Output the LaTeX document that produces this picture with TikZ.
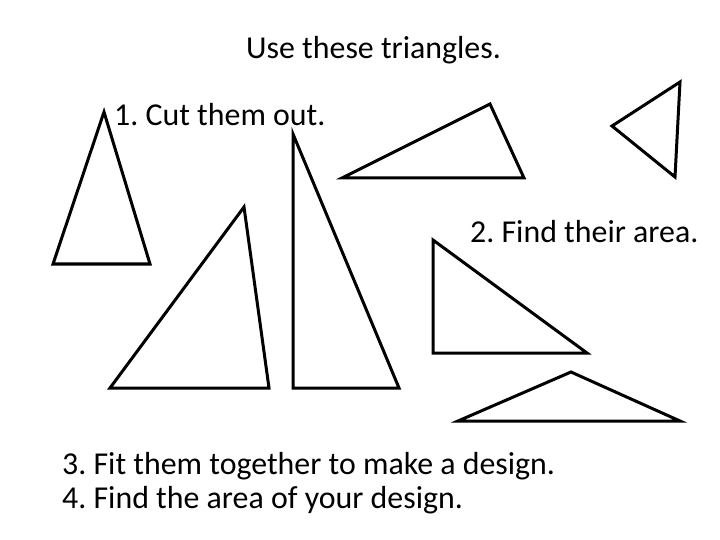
\documentclass[tikz,border=0pt]{standalone}
\usepackage{fontspec}
\setmainfont{Carlito}
\frenchspacing
\begin{document}
\begin{tikzpicture}[x=1bp,y=-1bp,tri/.style={draw=black,line width=3bp,line join=miter},
lbl/.style={anchor=west,inner sep=0pt,font=\fontsize{32}{38}\selectfont}]
\useasboundingbox (0,0) rectangle (720,540);
\draw[tri] (104,112) -- (53,264) -- (150,264) -- cycle;
\draw[tri] (342,178) -- (490,104) -- (524,178) -- cycle;
\draw[tri] (680,82) -- (612,126) -- (675,177) -- cycle;
\draw[tri] (244,207) -- (110,388) -- (269,388) -- cycle;
\draw[tri] (293,134) -- (293,388) -- (399,388) -- cycle;
\draw[tri] (433,240) -- (433,353) -- (587,353) -- cycle;
\draw[tri] (571,372) -- (458,421) -- (680,421) -- cycle;
\node[lbl] (t0) at (246,50) {Use these triangles.};
\node[lbl] (t1) at (114,115) {1. Cut them out.};
\node[lbl] (t2) at (470,232) {2. Find their area.};
\node[lbl] (t3) at (62,466) {3. Fit them together to make a design.};
\node[lbl] (t4) at (62,500) {4. Find the area of your design.};
\end{tikzpicture}
\end{document}
